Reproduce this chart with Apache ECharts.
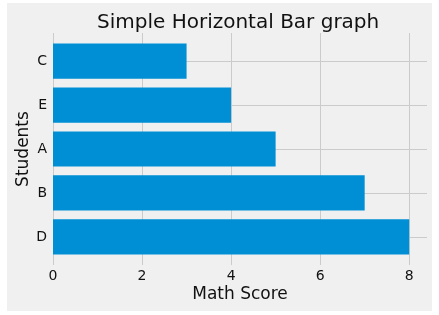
<!DOCTYPE html>
<html><head><meta charset="utf-8">
<script src="https://cdn.jsdelivr.net/npm/echarts@6/dist/echarts.min.js"></script>
<style>html,body{margin:0;padding:0;background:#fff;width:439px;height:315px;overflow:hidden}
#c{position:absolute;left:7px;top:3px;width:425px;height:308px}</style></head>
<body><div id="c"></div>
<script>
const students = ['D', 'B', 'A', 'E', 'C'];
const mathScores = [8, 7, 5, 4, 3];
const xTicks = [0, 2, 4, 6, 8];
const yTicks = [0, 1, 2, 3, 4];

const data = mathScores.map((v, i) => [v, i]);
const font = 'DejaVu Sans';
const chart = echarts.init(document.getElementById('c'), null, {renderer: 'canvas'});
chart.setOption({
  backgroundColor: '#f0f0f0',
  animation: false,
  title: {
    text: 'Simple Horizontal Bar graph',
    left: 85, top: 5,
    textStyle: {fontFamily: font, fontSize: 20, fontWeight: 'normal', color: '#111'}
  },
  grid: {left: 46, right: 5, top: 30, bottom: 46, outerBoundsMode: 'none', containLabel: false},
  xAxis: {
    type: 'value', min: 0, max: 8.4,
    name: 'Math Score', nameLocation: 'middle', nameGap: 21, nameMoveOverlap: false,
    nameTextStyle: {fontFamily: font, fontSize: 17, color: '#111'},
    axisLine: {show: false},
    axisTick: {show: false, customValues: xTicks},
    axisLabel: {customValues: xTicks, fontFamily: font, fontSize: 14, color: '#111', margin: 4},
    splitLine: {show: true, lineStyle: {color: '#cbcbcb', width: 1}}
  },
  yAxis: {
    type: 'value', min: -0.64, max: 4.64,
    name: 'Students', nameLocation: 'middle', nameGap: 21, nameMoveOverlap: false,
    nameTextStyle: {fontFamily: font, fontSize: 17, color: '#111'},
    axisLine: {show: false},
    axisTick: {show: false, customValues: yTicks},
    axisLabel: {customValues: yTicks, formatter: v => students[Math.round(v)],
      fontFamily: font, fontSize: 14, color: '#111', margin: 6},
    splitLine: {show: true, lineStyle: {color: '#cbcbcb', width: 1}}
  },
  series: [{
    type: 'custom',
    encode: {x: 0, y: 1},
    data: data,
    renderItem: function (params, api) {
      const v = api.value(0), i = api.value(1);
      const s = api.coord([0, i]);
      const e = api.coord([v, i]);
      const h = api.size([0, 0.8])[1];
      return {type: 'rect', shape: {x: s[0], y: s[1] - h / 2, width: e[0] - s[0], height: h},
        style: {fill: '#008fd5'}};
    }
  }]
});
</script></body></html>
